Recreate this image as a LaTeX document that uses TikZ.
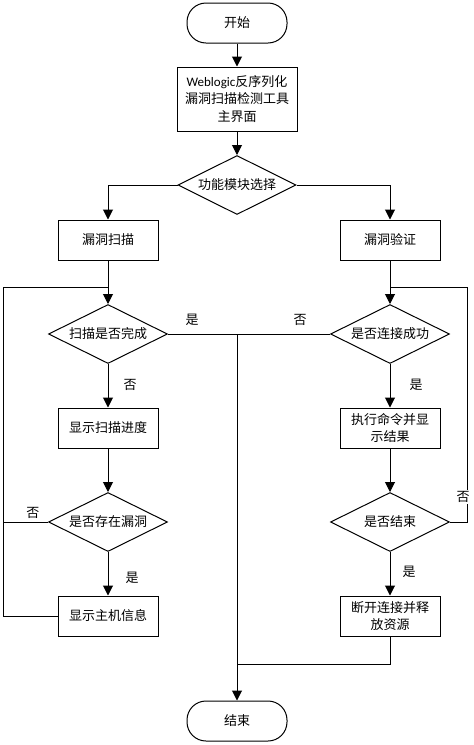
\documentclass[tikz,border=0pt]{standalone}
\usepackage{fontspec}
\setmainfont{Noto Sans CJK SC}
\newfontfamily\latinfont{Carlito}
\usepackage{tikz}
\usetikzlibrary{shapes.geometric}
\usetikzlibrary{arrows.meta}

\tikzset{
  box/.style={draw,line width=1pt,minimum width=100pt,minimum height=40pt,align=center,inner sep=2pt},
  decision/.style={draw,diamond,aspect=2,line width=1pt,minimum width=119pt,minimum height=59pt,inner sep=1pt},
  terminal/.style={draw,rounded corners=19pt,line width=1pt,minimum width=100pt,minimum height=40pt},
  flow/.style={line width=1pt,-{Triangle[length=10pt,width=10pt]}},
  wire/.style={line width=1pt},
  lbl/.style={inner sep=1pt}
}

\begin{document}
\begin{tikzpicture}[x=1pt,y=-1pt,every node/.style={font=\fontsize{13pt}{17.5pt}\selectfont}]
      \useasboundingbox (0,0) rectangle (474,745);
      \node[terminal] (start) at (237,23) {开始};
      \node[box,minimum width=120pt,minimum height=64pt] (main) at (237,99) {{\latinfont Weblogic}反序列化\\漏洞扫描检测工具\\主界面};
      \node[decision,minimum width=118pt] (func) at (237,185) {功能模块选择};
      \node[box] (scan) at (108,240) {漏洞扫描};
      \node[box] (verify) at (390,240) {漏洞验证};
      \node[decision] (scanq) at (108,334) {扫描是否完成};
      \node[decision] (connq) at (390,334) {是否连接成功};
      \node[box] (progress) at (108,428) {显示扫描进度};
      \node[box] (exec) at (390,428) {执行命令并显\\示结果};
      \node[decision] (vulq) at (108,522) {是否存在漏洞};
      \node[decision] (endq) at (390,522) {是否结束};
      \node[box] (host) at (108,616) {显示主机信息};
      \node[box] (release) at (390,616) {断开连接并释\\放资源};
      \node[terminal] (finish) at (237,721) {结束};
      \coordinate (lfb) at (3,287);
      \coordinate (rfb) at (467,287);
      \coordinate (join1) at (237,334);
      \coordinate (join2) at (237,664);
      \path[flow] (start) edge (main);
      \path[flow] (main) edge (func);
      \draw[flow] (func.west) -| (scan.north);
      \draw[flow] (func.east) -| (verify.north);
      \path[flow] (scan) edge (scanq);
      \path[flow] (verify) edge (connq);
      \path[flow] (scanq) edge (progress);
      \path[flow] (progress) edge (vulq);
      \path[flow] (vulq) edge (host);
      \path[flow] (connq) edge (exec);
      \path[flow] (exec) edge (endq);
      \path[flow] (endq) edge (release);
      \draw[wire] (scanq.east) -- (connq.west);
      \draw[flow] (join1) -- (finish.north);
      \draw[wire] (release.south) |- (join2);
      \draw[wire] (host.west) -| (lfb) -- (lfb -| scanq.north);
      \draw[wire] (vulq.west) -- (vulq.west -| lfb);
      \draw[wire] (endq.east) -| (rfb) -- (rfb -| connq.north);
      \node[lbl] (yes1) at (192,320) {是};
      \node[lbl] (no1) at (300,320) {否};
      \node[lbl] (no2) at (130,385) {否};
      \node[lbl] (yes2) at (416,385) {是};
      \node[lbl] (no3) at (33,513) {否};
      \node[lbl,fill=white] (no4) at (463,497) {否};
      \node[lbl] (yes3) at (132,578) {是};
      \node[lbl] (yes4) at (409,572) {是};
\end{tikzpicture}
\end{document}
